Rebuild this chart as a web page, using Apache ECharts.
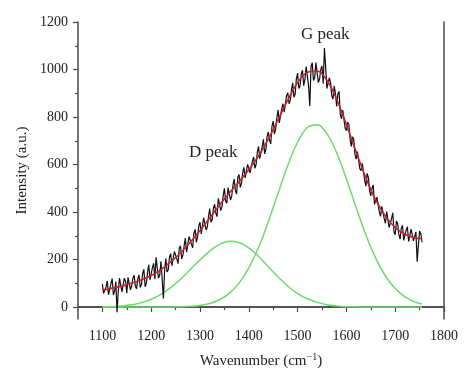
<!DOCTYPE html>
<html><head><meta charset="utf-8">
<script src="https://cdn.jsdelivr.net/npm/echarts@6/dist/echarts.min.js"></script>
<style>html,body{margin:0;padding:0;background:#fff}#c{width:474px;height:383px}</style>
</head><body><div id="c"></div>
<script>
// Raw spectrum (black), sampled every 5 cm^-1
const rawX = [1100,1105,1110,1115,1120,1125,1130,1135,1140,1145,1150,1155,1160,1165,1170,1175,1180,1185,1190,1195,
1200,1205,1210,1215,1220,1225,1230,1235,1240,1245,1250,1255,1260,1265,1270,1275,1280,1285,1290,1295,
1300,1305,1310,1315,1320,1325,1330,1335,1340,1345,1350,1355,1360,1365,1370,1375,1380,1385,1390,1395,
1400,1405,1410,1415,1420,1425,1430,1435,1440,1445,1450,1455,1460,1465,1470,1475,1480,1485,1490,1495,
1500,1505,1510,1515,1520,1525,1530,1535,1540,1545,1550,1555,1560,1565,1570,1575,1580,1585,1590,1595,
1600,1605,1610,1615,1620,1625,1630,1635,1640,1645,1650,1655,1660,1665,1670,1675,1680,1685,1690,1695,
1700,1705,1710,1715,1720,1725,1730,1735,1740,1745,1750,1755];
const rawY = [97,54,111,48,120,67,-21,122,64,122,59,117,90,134,77,136,95,159,99,178,
113,184,210,122,193,36,204,157,225,169,234,183,258,219,290,232,298,250,327,295,
357,305,368,337,415,369,433,381,455,422,500,437,500,467,539,476,558,520,588,540,
608,557,632,601,676,624,706,664,737,687,783,748,829,780,856,816,902,870,944,897,
985,931,997,957,1013,847,1029,965,1024,960,1015,1090,920,965,890,930,845,908,792,830,
743,769,676,707,623,661,574,601,509,546,468,514,431,464,382,425,353,406,334,397,
305,353,286,344,282,338,269,336,272,191,320,273];
// Raw spectrum, in-between samples
const rawXMid = [1102.5,1107.5,1112.5,1117.5,1122.5,1127.5,1132.5,1137.5,1142.5,1147.5,1152.5,1157.5,1162.5,1167.5,1172.5,1177.5,1182.5,1187.5,1192.5,1197.5,
1202.5,1207.5,1212.5,1217.5,1222.5,1227.5,1232.5,1237.5,1242.5,1247.5,1252.5,1257.5,1262.5,1267.5,1272.5,1277.5,1282.5,1287.5,1292.5,1297.5,
1302.5,1307.5,1312.5,1317.5,1322.5,1327.5,1332.5,1337.5,1342.5,1347.5,1352.5,1357.5,1362.5,1367.5,1372.5,1377.5,1382.5,1387.5,1392.5,1397.5,
1402.5,1407.5,1412.5,1417.5,1422.5,1427.5,1432.5,1437.5,1442.5,1447.5,1452.5,1457.5,1462.5,1467.5,1472.5,1477.5,1482.5,1487.5,1492.5,1497.5,
1502.5,1507.5,1512.5,1517.5,1522.5,1527.5,1532.5,1537.5,1542.5,1547.5,1552.5,1557.5,1562.5,1567.5,1572.5,1577.5,1582.5,1587.5,1592.5,1597.5,
1602.5,1607.5,1612.5,1617.5,1622.5,1627.5,1632.5,1637.5,1642.5,1647.5,1652.5,1657.5,1662.5,1667.5,1672.5,1677.5,1682.5,1687.5,1692.5,1697.5,
1702.5,1707.5,1712.5,1717.5,1722.5,1727.5,1732.5,1737.5,1742.5,1747.5,1752.5];
const rawYMid = [58,85,52,99,51,108,65,93,60,108,125,73,122,90,119,83,142,86,146,115,
166,117,163,135,192,155,148,211,174,234,203,248,203,259,231,297,264,311,273,341,
308,376,325,383,357,416,394,458,406,468,446,503,451,513,490,547,504,566,544,601,
565,615,584,653,625,677,645,718,702,762,728,798,775,835,821,891,856,915,883,961,
920,981,932,1012,930,1013,954,1029,945,1000,940,1010,920,945,875,900,897,810,829,752,
779,710,717,643,655,583,605,533,563,490,501,433,463,401,424,372,402,335,373,316,
362,305,333,281,325,276,328,279,317,261,309];

// Fitted curves, every 20 cm^-1
const fitX = [1100,1120,1140,1160,1180,1200,1220,1240,1260,1280,1300,1320,1340,1360,1380,1400,1420,1440,1460,1480,
1500,1520,1540,1560,1580,1600,1620,1640,1660,1680,1700,1720,1740,1755];
const fitTotal = [72,80,89,100,115,133,158,190,228,273,322,375,430,480,528,578,636,707,789,872,
945,988,994,955,875,768,653,544,451,383,335,307,292,288];
const dPeak = [1,2.5,5,10,19,33,54,82,117,158,199,236,264,277,272,249,213,170,127,88,
57,35,20,10,5,2,1,0.4,0,0,0,0,0,0];
const gPeak = [0,0,0,0,0,0,0.2,0.5,1.3,3.2,7.3,15.6,31,58,101,165,252,360,479,597,
694,756,768,730,649,539,419,304,206,131,78,43,22,13];

const xMajor = [1100,1200,1300,1400,1500,1600,1700,1800];
const xMinor = [1150,1250,1350,1450,1550,1650,1750];
const yMajor = [0,200,400,600,800,1000,1200];
const yMinor = [100,300,500,700,900,1100];

const pairs = (xs, ys) => xs.map((x, i) => [x, ys[i]]);
const rawData = pairs(rawX, rawY).concat(pairs(rawXMid, rawYMid)).sort((a, b) => a[0] - b[0]);

const FONT = 'Liberation Serif';
const AX = '#4a4a4a';
const X_MIN = 1050, X_MAX = 1800, Y_MIN = -50, Y_MAX = 1200;
const plain = v => String(v);

const chart = echarts.init(document.getElementById('c'), null, {renderer: 'canvas'});
chart.setOption({
  animation: false,
  backgroundColor: '#fff',
  grid: {left: 78, right: 30, top: 22, bottom: 64},
  xAxis: [
    {type: 'value', position: 'bottom', min: X_MIN, max: X_MAX,
     name: 'Wavenumber (cm{sup|\u22121})', nameLocation: 'middle', nameGap: 33,
     nameTextStyle: {fontFamily: FONT, fontSize: 15, color: '#222',
       rich: {sup: {fontFamily: FONT, fontSize: 10, color: '#222', verticalAlign: 'top', padding: [0,0,8,0]}}},
     axisLine: {show: true, lineStyle: {color: AX, width: 1.5}},
     axisTick: {show: true, inside: false, length: 5, lineStyle: {color: AX, width: 1.2}, customValues: xMajor},
     axisLabel: {show: true, customValues: xMajor, formatter: plain, margin: 10, fontFamily: FONT, fontSize: 14, color: '#222'},
     splitLine: {show: false}},
    {type: 'value', position: 'bottom', min: X_MIN, max: X_MAX,
     axisLine: {show: false},
     axisTick: {show: true, length: 3, lineStyle: {color: AX, width: 1.2}, customValues: xMinor},
     axisLabel: {show: false}, splitLine: {show: false}},
    {type: 'value', position: 'top', min: X_MIN, max: X_MAX,
     axisLine: {show: true, lineStyle: {color: AX, width: 1.5}},
     axisTick: {show: false}, axisLabel: {show: false}, splitLine: {show: false}}
  ],
  yAxis: [
    {type: 'value', position: 'left', min: Y_MIN, max: Y_MAX,
     name: 'Intensity (a.u.)', nameLocation: 'middle', nameGap: 42, nameRotate: 90,
     nameTextStyle: {fontFamily: FONT, fontSize: 15, color: '#222'},
     axisLine: {show: true, lineStyle: {color: AX, width: 1.5}},
     axisTick: {show: true, length: 5, lineStyle: {color: AX, width: 1.2}, customValues: yMajor},
     axisLabel: {show: true, customValues: yMajor, formatter: plain, margin: 10, fontFamily: FONT, fontSize: 14, color: '#222'},
     splitLine: {show: false}},
    {type: 'value', position: 'left', min: Y_MIN, max: Y_MAX,
     axisLine: {show: false},
     axisTick: {show: true, length: 3, lineStyle: {color: AX, width: 1.2}, customValues: yMinor},
     axisLabel: {show: false}, splitLine: {show: false}},
    {type: 'value', position: 'right', min: Y_MIN, max: Y_MAX,
     axisLine: {show: true, lineStyle: {color: AX, width: 1.5}},
     axisTick: {show: false}, axisLabel: {show: false}, splitLine: {show: false}}
  ],
  series: [
    {name: 'D peak', type: 'line', data: pairs(fitX, dPeak), smooth: 0.4, showSymbol: false,
     lineStyle: {color: '#6cdc6c', width: 1.5}, z: 2},
    {name: 'G peak', type: 'line', data: pairs(fitX, gPeak), smooth: 0.4, showSymbol: false,
     lineStyle: {color: '#6cdc6c', width: 1.5}, z: 2},
    {name: 'Raw', type: 'line', data: rawData, showSymbol: false,
     lineStyle: {color: '#111', width: 1.2}, z: 3},
    {name: 'Fit', type: 'line', data: pairs(fitX, fitTotal), smooth: 0.4, showSymbol: false,
     lineStyle: {color: '#c0262d', width: 1.6}, z: 4}
  ],
  graphic: [
    {type: 'text', left: 301, top: 26, style: {text: 'G peak', fontFamily: FONT, fontSize: 17, fill: '#222'}},
    {type: 'text', left: 189, top: 144, style: {text: 'D peak', fontFamily: FONT, fontSize: 17, fill: '#222'}}
  ]
});
</script></body></html>
